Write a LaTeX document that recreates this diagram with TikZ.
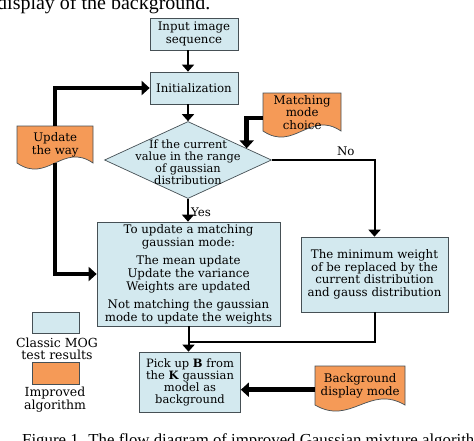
\documentclass[tikz,border=0pt]{standalone}
\usepackage{fontspec}
\setmainfont{DejaVu Serif}
\newfontfamily\capfont{Liberation Serif}
\usetikzlibrary{positioning,shapes.geometric,arrows.meta,calc}

\definecolor{boxblue}{RGB}{211,233,239}
\definecolor{docorange}{RGB}{245,154,87}
\definecolor{edgegray}{RGB}{70,80,85}

% document shape: name, left, top, width, height to right corner, text
\newcommand{\docnode}[6]{%
  \filldraw[docshape] (#2,#3) -- ({#2+#4},#3) -- ({#2+#4},{#3+#5})
    .. controls ({#2+0.6*#4},{#3+#5-21}) and ({#2+0.4*#4},{#3+#5+21}) .. (#2,{#3+#5}) -- cycle;
  \node[doctext,minimum width=#4pt,minimum height=#5pt,anchor=north west] (#1) at (#2,#3) {#6};
}

\begin{document}
\begin{tikzpicture}[x=1pt,y=-1pt,
  every node/.style={font=\fontsize{11.8}{12.5}\selectfont},
  procbox/.style={draw=edgegray,line width=0.7pt,fill=boxblue,align=center,inner sep=0pt},
  decision/.style={draw=edgegray,line width=0.7pt,fill=boxblue,diamond,inner sep=0pt,
    minimum width=167pt,minimum height=77pt},
  docshape/.style={draw=edgegray,line width=0.7pt,fill=docorange},
  doctext/.style={align=center,inner sep=0pt},
  plaintext/.style={align=center,inner sep=0pt},
  flow/.style={line width=2pt,-{Triangle[width=12pt,length=7pt]}},
  flowline/.style={line width=2pt},
  bold/.style={line width=4.5pt,-{Triangle[width=14pt,length=8pt]}}]
\useasboundingbox (0,0) rectangle (474,440);
\clip (0,0) rectangle (474,440);
%
\node[font=\capfont\fontsize{20}{24}\selectfont,anchor=base west,inner sep=0pt] (prevline) at (-3,9) {display of the background.};
\node[font=\capfont\fontsize{16.8}{20}\selectfont,anchor=base west,inner sep=0pt] (caption) at (22,445) {Figure 1. The flow diagram of improved Gaussian mixture algorithm};
%
\node[procbox,minimum width=88pt,minimum height=32pt] (input) at (194,34) {Input image\\sequence};
\node[procbox,minimum width=88pt,minimum height=32pt] (init) at (194,88) {Initialization};
\node[decision] (cond) at (188,160) {};
\node[plaintext,font=\fontsize{11.4}{12}\selectfont] (condtext) at (188,162) {If the current\\value in the range\\of gaussian\\distribution};
\node[procbox,minimum width=183pt,minimum height=104pt,font=\fontsize{11.8}{13}\selectfont] (upd) at (188.5,274)
  {To update a matching\\gaussian mode:\\[5pt]The mean update\\Update the variance\\Weights are updated\\[5pt]Not matching the gaussian\\mode to update the weights};
\node[procbox,minimum width=147pt,minimum height=75pt] (minw) at (374.5,274.5)
  {The minimum weight\\of be replaced by the\\current distribution\\and gauss distribution};
\node[procbox,minimum width=101pt,minimum height=60pt,font=\fontsize{11.5}{12}\selectfont] (pick) at (190,382)
  {Pick up \textbf{B} from\\the \textbf{K} gaussian\\model as\\background};
%
\docnode{match}{263}{93}{78}{38}{Matching\\mode\\choice}
\docnode{updway}{17}{126}{76}{37}{Update\\the way}
\docnode{bgmode}{315}{366}{90}{39}{Background\\display mode}
%
% legend
\node[procbox,minimum width=47pt,minimum height=21pt] (legclassic) at (55.5,322.5) {};
\node[plaintext,font=\fontsize{12.5}{12}\selectfont] (legclassictext) at (57,349) {Classic MOG\\test results};
\node[procbox,fill=docorange,minimum width=47pt,minimum height=22pt] (legimproved) at (55.5,373.5) {};
\node[plaintext,font=\fontsize{12.5}{13}\selectfont] (legimprovedtext) at (55,400) {Improved\\algorithm};
%
\draw[flow] (input.south -| cond.north) -- (init.north -| cond.north);
\draw[flow] (init.south -| cond.north) -- (cond.north);
\draw[flow] (cond.south) -- node[right,pos=0.6,inner sep=2pt] {Yes} (cond.south |- upd.north);
\draw[flow] (cond.east) -| node[above,pos=0.36] {No} (minw.north);
\draw[flow] (upd.south) -- (upd.south |- pick.north);
\coordinate (merge) at (188.5,342);
\draw[flowline] (minw.south) |- (merge);
%
\coordinate (matchout) at ([yshift=-6pt]match.west);
\draw[bold] (matchout) -| ($(cond.north)!0.7!(cond.east)$);
\draw[bold] (updway.north) |- (init.west);
\draw[bold] (updway.south) |- (upd.west);
\coordinate (bgin) at ([yshift=-4pt]bgmode.west);
\draw[bold] (bgin) -- (bgin -| pick.east);
\end{tikzpicture}
\end{document}
